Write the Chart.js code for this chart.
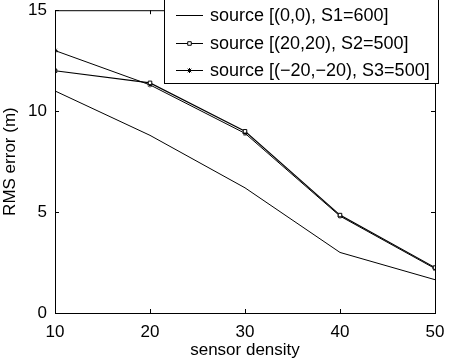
<!DOCTYPE html>
<html>
<head>
<meta charset="utf-8">
<script src="https://cdn.jsdelivr.net/npm/chart.js@4.4.1/dist/chart.umd.min.js"></script>
<style>
  html, body { margin: 0; padding: 0; background: #fff; }
  #wrap { width: 474px; height: 361px; }
</style>
</head>
<body>
<div id="wrap"><canvas id="rmsChart" width="474" height="361"></canvas></div>
<script>
// datos
const sensorDensity = [10, 20, 30, 40, 50];
const rmsS1 = [11.0, 8.8, 6.2, 3.0, 1.65];
const rmsS2 = [12.0, 11.4, 9.0, 4.85, 2.25];
const rmsS3 = [13.0, 11.3, 8.9, 4.8, 2.2];
const seriesLabels = [
    'source [(0,0), S1=600]',
    'source [(20,20), S2=500]',
    'source [(\u221220,\u221220), S3=500]'
];
const xTicks = [10, 20, 30, 40, 50];
const yTicks = [0, 5, 10, 15];

const FONT = '"Liberation Sans", Arial, Helvetica, sans-serif';

function toPoints(ys) {
    return sensorDensity.map((x, i) => ({ x: x, y: ys[i] }));
}

// marco tipo matlab con ticks hacia dentro + leyenda
const framePlugin = {
    id: 'frame',
    afterDatasetsDraw(chart) {
        const { ctx, chartArea: a, scales } = chart;
        ctx.save();
        ctx.strokeStyle = '#000';
        ctx.lineWidth = 1;
        ctx.strokeRect(a.left + 0.5, a.top + 0.5, a.right - a.left, a.bottom - a.top);
        ctx.beginPath();
        xTicks.forEach(v => {
            const px = Math.round(scales.x.getPixelForValue(v)) + 0.5;
            ctx.moveTo(px, a.bottom); ctx.lineTo(px, a.bottom - 4);
            ctx.moveTo(px, a.top); ctx.lineTo(px, a.top + 4);
        });
        yTicks.forEach(v => {
            const py = Math.round(scales.y.getPixelForValue(v)) + 0.5;
            ctx.moveTo(a.left, py); ctx.lineTo(a.left + 4, py);
            ctx.moveTo(a.right, py); ctx.lineTo(a.right - 4, py);
        });
        ctx.stroke();

        // leyenda
        const bx = 164, by = -1, bw = 274, bh = 84;
        ctx.fillStyle = '#fff';
        ctx.fillRect(bx, by, bw, bh);
        ctx.strokeRect(bx + 0.5, by + 0.5, bw, bh);
        const rows = [15, 43, 70];
        const styles = [null, 'rect', 'star'];
        ctx.font = '18px ' + FONT;
        ctx.textBaseline = 'middle';
        rows.forEach((ry, i) => {
            ctx.beginPath();
            ctx.moveTo(176, ry + 0.5); ctx.lineTo(203, ry + 0.5);
            ctx.stroke();
            if (styles[i]) {
                ctx.fillStyle = '#fff';
                Chart.helpers.drawPoint(ctx, { pointStyle: styles[i], radius: 2.5, rotation: 0, borderWidth: 1 }, 189.5, ry + 0.5);
            }
            ctx.fillStyle = '#000';
            ctx.fillText(seriesLabels[i], 210, ry + 1);
        });
        ctx.restore();
    }
};

const ctx = document.getElementById('rmsChart').getContext('2d');
new Chart(ctx, {
    type: 'line',
    data: {
        datasets: [
            {
                label: seriesLabels[0],
                data: toPoints(rmsS1),
                borderColor: '#000',
                borderWidth: 1,
                pointRadius: 0,
                tension: 0
            },
            {
                label: seriesLabels[1],
                data: toPoints(rmsS2),
                borderColor: '#000',
                borderWidth: 1.2,
                pointStyle: 'rect',
                pointRadius: 2.5,
                pointBackgroundColor: '#fff',
                pointBorderColor: '#000',
                pointBorderWidth: 1,
                tension: 0
            },
            {
                label: seriesLabels[2],
                data: toPoints(rmsS3),
                borderColor: '#000',
                borderWidth: 1,
                pointStyle: 'star',
                pointRadius: 2.5,
                pointBorderColor: '#000',
                pointBorderWidth: 1,
                tension: 0
            }
        ]
    },
    options: {
        responsive: false,
        animation: false,
        layout: { padding: { top: 8, right: 39, left: 0, bottom: 0 } },
        plugins: { legend: { display: false }, tooltip: { enabled: false } },
        scales: {
            x: {
                type: 'linear',
                min: 10, max: 50,
                afterFit: s => { s.height = 48; },
                ticks: { stepSize: 10, color: '#000', font: { family: FONT, size: 17 }, padding: 1, maxRotation: 0 },
                grid: { display: false },
                border: { display: false },
                title: { display: true, text: 'sensor density', color: '#000', font: { family: FONT, size: 17 }, padding: { top: 0, bottom: 0 } }
            },
            y: {
                min: 0, max: 15,
                afterFit: s => { s.width = 55; },
                ticks: { stepSize: 5, color: '#000', font: { family: FONT, size: 17 }, padding: 0 },
                grid: { display: false },
                border: { display: false },
                title: { display: true, text: 'RMS error (m)', color: '#000', font: { family: FONT, size: 17 }, padding: { top: 0, bottom: 0 } }
            }
        }
    },
    plugins: [framePlugin]
});
</script>
</body>
</html>
